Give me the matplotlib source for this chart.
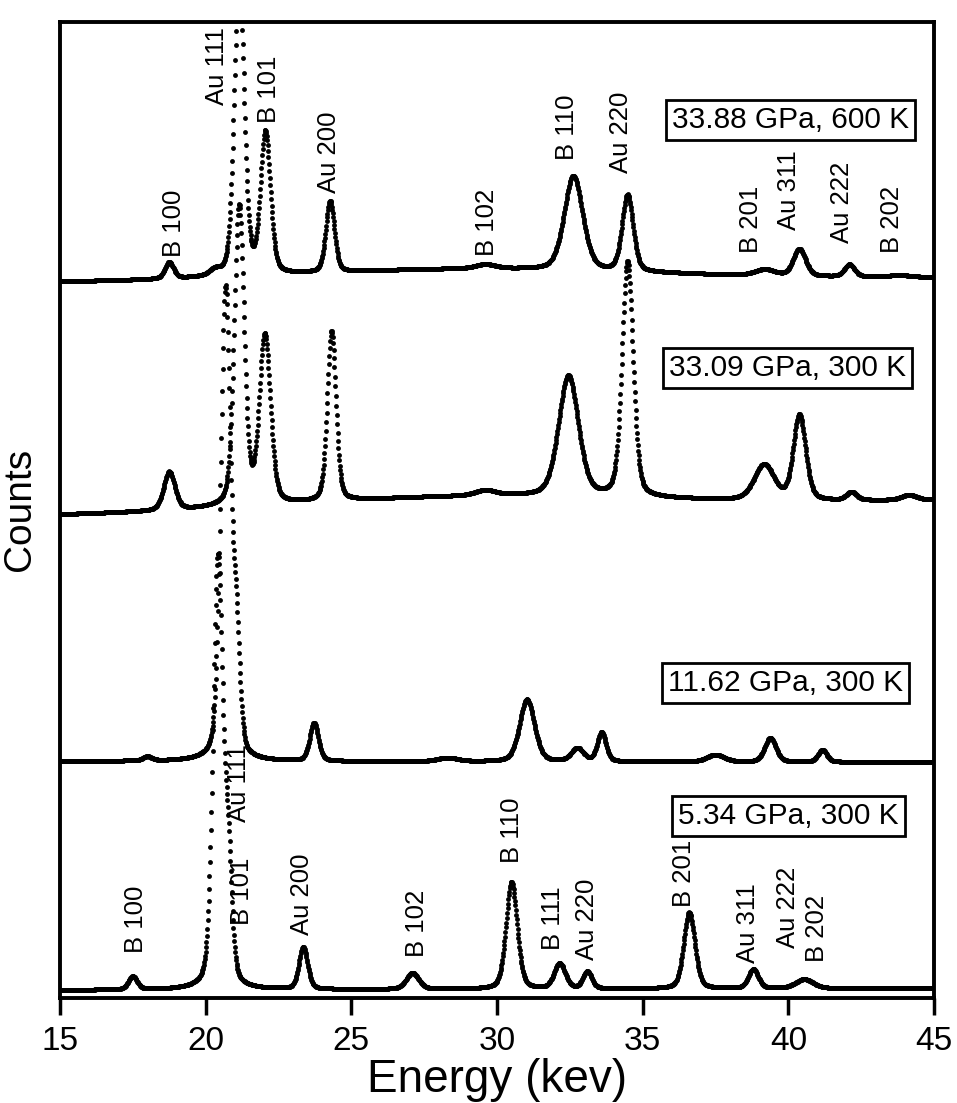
import numpy as np
import matplotlib
matplotlib.use('Agg')
from matplotlib import pyplot as plt

plt.rcParams['font.family'] = ['Liberation Sans', 'DejaVu Sans']

# Detector energy channels (keV)
energy = np.arange(15.0, 45.0, 0.015)

# 5.34 GPa, 300 K : peak centres (keV), heights (counts), widths (keV)
p534_pos = [17.5, 20.42, 20.78, 23.35, 27.1, 30.5, 32.15, 33.1, 36.6, 38.8, 40.55]
p534_amp = [13, 430, 110, 42, 16, 107, 25, 17, 76, 19, 9]
p534_fwhm = [0.35, 0.4, 0.3, 0.35, 0.5, 0.45, 0.45, 0.35, 0.45, 0.4, 0.7]
p534_bg = [8, 10, 0]          # background at 15 keV, at 45 keV, broad hump

# 11.62 GPa, 300 K
p1162_pos = [18.0, 20.68, 21.05, 23.72, 28.3, 31.03, 32.76, 33.59, 37.5, 39.38, 41.17]
p1162_amp = [4, 470, 110, 38, 3.5, 62, 13, 29, 7, 24, 12]
p1162_fwhm = [0.35, 0.4, 0.3, 0.35, 0.8, 0.6, 0.5, 0.35, 0.7, 0.45, 0.35]
p1162_bg = [237, 236, 0]

# 33.09 GPa, 300 K
p3309_pos = [18.75, 21.15, 22.03, 24.32, 29.6, 32.45, 34.48, 39.17, 40.38, 42.17, 44.14]
p3309_amp = [38, 300, 168, 170, 5, 120, 235, 35, 85, 8, 5]
p3309_fwhm = [0.45, 0.4, 0.45, 0.35, 0.8, 0.8, 0.45, 0.8, 0.5, 0.4, 0.6]
p3309_bg = [483, 498, 12]

# 33.88 GPa, 600 K
p3388_pos = [18.75, 20.3, 21.15, 22.05, 24.27, 29.6, 32.62, 34.48, 39.2, 40.38, 42.1, 43.8]
p3388_amp = [16, 5, 300, 141, 71, 4, 94, 76, 6, 27, 12, 2]
p3388_fwhm = [0.35, 0.4, 0.4, 0.4, 0.35, 0.8, 0.75, 0.45, 0.8, 0.5, 0.4, 0.6]
p3388_bg = [716, 721, 11]

spectra = [
    (p534_pos, p534_amp, p534_fwhm, p534_bg),
    (p1162_pos, p1162_amp, p1162_fwhm, p1162_bg),
    (p3309_pos, p3309_amp, p3309_fwhm, p3309_bg),
    (p3388_pos, p3388_amp, p3388_fwhm, p3388_bg),
]

# Peak labels: (text, energy, bottom of label)
labels_600k = [('B 100', 18.9, 741), ('Au 111', 20.38, 893), ('B 101', 22.17, 875),
               ('Au 200', 24.24, 805), ('B 102', 29.66, 742), ('B 110', 32.41, 838),
               ('Au 220', 34.24, 825), ('B 201', 38.72, 745), ('Au 311', 40.03, 768),
               ('Au 222', 41.83, 755), ('B 202', 43.55, 745)]
labels_534 = [('B 100', 17.62, 45), ('Au 111', 21.14, 176), ('B 101', 21.24, 73),
              ('Au 200', 23.31, 63), ('B 102', 27.24, 41), ('B 110', 30.52, 135),
              ('B 111', 31.93, 48), ('Au 220', 33.1, 38), ('B 201', 36.41, 91),
              ('Au 311', 38.62, 35), ('Au 222', 40.0, 50), ('B 202', 40.97, 36)]

# Condition boxes: (text, right edge energy, centre height)
conditions = [('33.88 GPa, 600 K', 44.15, 878), ('33.09 GPa, 300 K', 44.05, 630),
              ('11.62 GPa, 300 K', 43.95, 315), ('5.34 GPa, 300 K', 43.8, 182)]


def pseudo_voigt(x, pos, amp, fwhm, eta=0.3):
    '''Sum of pseudo-Voigt peaks for one pattern'''
    y = np.zeros_like(x)
    for p, a, w in zip(pos, amp, fwhm):
        g = np.exp(-4 * np.log(2) * ((x - p) / w) ** 2)
        l = 1 / (1 + (2 * (x - p) / w) ** 2)
        y += a * ((1 - eta) * g + eta * l)
    return y


fig = plt.figure(figsize=(9.57, 11.03), dpi=100)
ax = fig.add_axes([0.0627, 0.0952, 0.9133, 0.8848])

for pos, amp, fwhm, bg in spectra:
    base = bg[0] + (bg[1] - bg[0]) * (energy - 15) / 30
    base = base + bg[2] * np.exp(-4 * np.log(2) * ((energy - 29) / 14) ** 2)
    counts = base + pseudo_voigt(energy, pos, amp, fwhm)
    ax.plot(energy, counts, ls='none', marker='o', ms=3.5, mew=0, color='black')

for txt, e, yb in labels_600k + labels_534:
    ax.text(e, yb, txt, rotation=90, ha='center', va='bottom', fontsize=18.5)

for txt, e, yc in conditions:
    ax.text(e, yc, txt, ha='right', va='center', fontsize=21.5,
            bbox=dict(boxstyle='square,pad=0.2', fc='white', ec='black', lw=2))

ax.set_xlim(15, 45)
ax.set_ylim(0, 976)
ax.set_yticks([])
ax.set_xticks(np.arange(15, 46, 5))
ax.tick_params(axis='x', direction='out', length=12, width=2.5, labelsize=24, pad=8)
for s in ax.spines.values():
    s.set_linewidth(2.8)
ax.set_xlabel('Energy (kev)', fontsize=33, labelpad=1)
fig.text(0.002, 0.538, 'Counts', rotation=90, ha='left', va='center', fontsize=28)

fig.savefig('out.png', dpi=100)
